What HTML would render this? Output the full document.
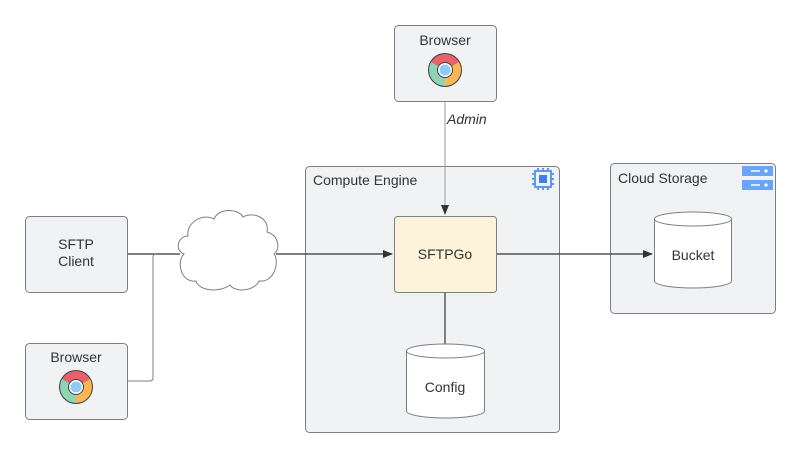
<!DOCTYPE html>
<html><head><style>body{margin:0;background:#fff}svg{display:block}text{font-family:"Liberation Sans",sans-serif;fill:#333}</style></head>
<body>
<svg width="801" height="458" viewBox="0 0 801 458" xmlns="http://www.w3.org/2000/svg">
<defs>
<marker id="a" markerWidth="10" markerHeight="8" refX="9" refY="4" orient="auto" markerUnits="userSpaceOnUse"><path d="M0,0 L10,4 L0,8 Z" fill="#333"/></marker>
<g id="chrome">
<circle r="17" fill="#3b4045"/>
<path d="M0,0 L-14.7,-8.5 A17,17 0 0 1 14.7,-8.5 Z" fill="#e95f6a" transform="scale(0.94)"/>
<path d="M0,0 L14.7,-8.5 A17,17 0 0 1 0,17 Z" fill="#fbb753" transform="scale(0.94)"/>
<path d="M0,0 L0,17 A17,17 0 0 1 -14.7,-8.5 Z" fill="#8fd5b5" transform="scale(0.94)"/>
<circle r="7.5" fill="#fff" stroke="#3b4045" stroke-width="1"/>
<circle r="5.5" fill="#8ecbf5"/>
</g>
</defs>
<rect x="305.5" y="166.5" width="254" height="266" rx="4" fill="#f1f2f4" stroke="#7b7f85"/>
<text x="313" y="185" font-size="14">Compute Engine</text>
<g fill="none" stroke="#5e97f6" stroke-width="2">
<rect x="535" y="171" width="16" height="16"/>
<path d="M538,168v3M543,168v3M548,168v3M538,187v3M543,187v3M548,187v3M532,174h3M532,179h3M532,184h3M551,174h3M551,179h3M551,184h3"/>
</g>
<rect x="539" y="175" width="8" height="8" fill="#3f7fe8"/>
<rect x="610.5" y="163.5" width="165" height="150" rx="4" fill="#f1f2f4" stroke="#7b7f85"/>
<text x="618" y="183" font-size="14">Cloud Storage</text>
<rect x="742" y="166" width="31" height="10" fill="#6aa3f7"/><rect x="742" y="180" width="31" height="10" fill="#6aa3f7"/>
<path d="M751,171h9M751,185h9" stroke="#fff" stroke-width="1.5"/><circle cx="766" cy="171" r="1.6" fill="#fff"/><circle cx="766" cy="185" r="1.6" fill="#fff"/>
<g stroke="#333" stroke-width="1.2" fill="none">
<path d="M127,254H180"/>
<path d="M276,254H392" marker-end="url(#a)"/>
<path d="M496,254H652" marker-end="url(#a)"/>
<path d="M445,292V345"/>
</g>
<path d="M445,101V214" stroke="#aaa" stroke-width="1.2" marker-end="url(#a)"/>
<path d="M127,381H150a3,3 0 0 0 3-3V257a3,3 0 0 1 3-3" stroke="#7b7f85" fill="none"/>
<text x="447" y="124" font-size="14" font-style="italic">Admin</text>
<rect x="394.5" y="25.5" width="102" height="76" rx="4" fill="#f1f2f4" stroke="#7b7f85"/>
<text x="445" y="45" font-size="14" text-anchor="middle">Browser</text>
<use href="#chrome" x="445" y="70"/>
<rect x="25.5" y="216.5" width="102" height="76" rx="4" fill="#f1f2f4" stroke="#7b7f85"/>
<text x="76" y="249" font-size="14" text-anchor="middle">SFTP</text>
<text x="76" y="266" font-size="14" text-anchor="middle">Client</text>
<rect x="25.5" y="343.5" width="102" height="76" rx="4" fill="#f1f2f4" stroke="#7b7f85"/>
<text x="76" y="362" font-size="14" text-anchor="middle">Browser</text>
<use href="#chrome" x="76" y="387"/>
<rect x="394.5" y="216.5" width="102" height="76" rx="3" fill="#fdf3da" stroke="#7b7f85"/>
<text x="445" y="259" font-size="14" text-anchor="middle">SFTPGo</text>
<path d="M406.5,351V411A39,7 0 0 0 484.5,411V351" fill="#fff" stroke="#7b7f85"/>
<ellipse cx="445.5" cy="351" rx="39" ry="7" fill="#fff" stroke="#7b7f85"/>
<text x="445" y="392" font-size="14" text-anchor="middle">Config</text>
<path d="M654.5,219V281A38.5,7 0 0 0 731.5,281V219" fill="#fff" stroke="#7b7f85"/>
<ellipse cx="693" cy="219" rx="38.5" ry="7" fill="#fff" stroke="#7b7f85"/>
<text x="693" y="260" font-size="14" text-anchor="middle">Bucket</text>
<path d="M184,254 C174,250 178,236 188,236 C186,222 203,213 214,219 C219,207 239,209 243,217 C253,211 270,218 267,232 C280,236 280,250 274,254 C280,262 274,283 259,281 C255,291 235,293 230,285 C219,293 199,291 196,281 C181,283 176,262 184,254 Z" fill="#fff" stroke="#7b7f85"/>
</svg>
</body></html>
